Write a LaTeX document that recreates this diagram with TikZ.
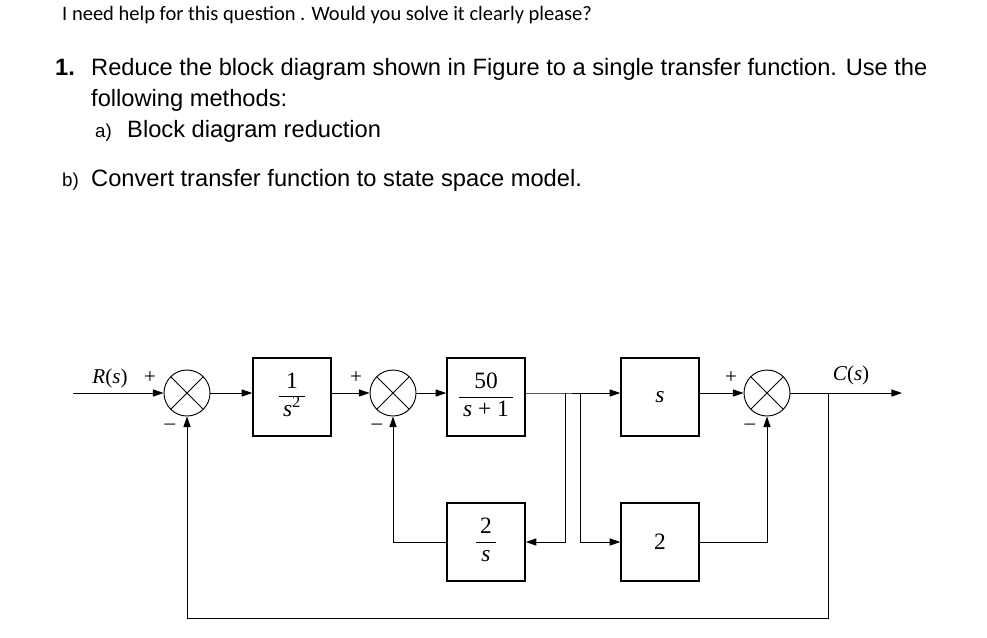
\documentclass[tikz,border=0pt]{standalone}
\usepackage{fontspec}
\setmainfont{Liberation Sans}
\newfontfamily\calib{Carlito}
\newfontfamily\tms{Liberation Serif}
\usetikzlibrary{arrows.meta,calc}
\newcommand{\myfr}[2]{\renewcommand{\arraystretch}{1.05}\setlength{\arrayrulewidth}{0.7pt}\begin{tabular}{@{\,}c@{\,}}#1\\\hline #2\end{tabular}}
\begin{document}
\begin{tikzpicture}[x=0.03cm,y=-0.03cm,
  blk/.style={draw,line width=1.3pt,minimum width=78*0.03cm,minimum height=78*0.03cm,inner sep=0pt,font=\tms\fontsize{20}{22}\selectfont},
  sumj/.style={draw,circle,line width=0.8pt,minimum size=46*0.03cm,inner sep=0pt,
    path picture={\draw[line width=0.8pt] (path picture bounding box.south west)--(path picture bounding box.north east) (path picture bounding box.north west)--(path picture bounding box.south east);}},
  ln/.style={line width=0.8pt},
  ar/.style={ln,-{Triangle[length=9pt,width=6pt]}},
  sg/.style={font=\tms\fontsize{18}{18}\selectfont},
  q/.style={anchor=base west,inner sep=0pt,font=\fontsize{20.2}{22}\selectfont}]
\useasboundingbox (0,0) rectangle (987,637);
\node[anchor=base west,inner sep=0pt,font=\calib\fontsize{17.5}{19}\selectfont] (t0) at (62,20) {I need help for this question . Would you solve it clearly please?};
\node[q] (t1) at (55,75) {\textbf{1.}};
\node[q] (t2) at (91,75) {Reduce the block diagram shown in Figure to a single transfer function. Use the};
\node[q] (t3) at (91,106) {following methods:};
\node[q,font=\fontsize{16}{18}\selectfont] (t4) at (95,137) {a)};
\node[q] (t5) at (127,137) {Block diagram reduction};
\node[q,font=\fontsize{16}{18}\selectfont] (t6) at (62,186) {b)};
\node[q] (t7) at (91,186) {Convert transfer function to state space model.};

\node[sumj] (s1) at (187,393) {};
\node[sumj] (s2) at (393,393) {};
\node[sumj] (s3) at (767,393) {};
\node[blk] (g1) at (292,397) {\myfr{1}{\textit{s}\textsuperscript{2}}};
\node[blk] (g2) at (486,397) {\myfr{50}{\textit{s} + 1}};
\node[blk] (g3) at (660,397) {\textit{s}};
\node[blk] (h1) at (486,542) {\myfr{2}{\textit{s}}};
\node[blk] (h2) at (660,542) {2};
\coordinate (in) at (73,393);
\coordinate (out) at (902,393);
\coordinate (tap) at (828,393);
\coordinate (b1) at (565,393);
\coordinate (b2) at (580,393);
\coordinate (bot) at (828,618);

\draw[ar] (in) -- (s1);
\draw[ar] (s1) -- (s1 -| g1.west);
\draw[ar] (s1 -| g1.east) -- (s2);
\draw[ar] (s2) -- (s2 -| g2.west);
\draw[ln] (s2 -| g2.east) -- (b1) -- (b2);
\draw[ar] (b2) -- (s3 -| g3.west);
\draw[ar] (s3 -| g3.east) -- (s3);
\draw[ar] (s3) -- (out);
\draw[ar] (b1) |- (h1.east);
\draw[ar] (b2) |- (h2.west);
\draw[ar] (h1.west) -| (s2);
\draw[ar] (h2.east) -| (s3);
\draw[ar] (tap) -- (bot) -| (s1);

\node[sg] (R) at (110,378) {\textit{R}(\textit{s})};
\node[sg] (p1) at (150,378) {+};
\node[sg] (m1) at (170,427) {–};
\node[sg] (p2) at (356,378) {+};
\node[sg] (m2) at (377,427) {–};
\node[sg] (p3) at (731,378) {+};
\node[sg] (m3) at (750,427) {–};
\node[sg] (C) at (851,375) {\textit{C}(\textit{s})};
\end{tikzpicture}
\end{document}
